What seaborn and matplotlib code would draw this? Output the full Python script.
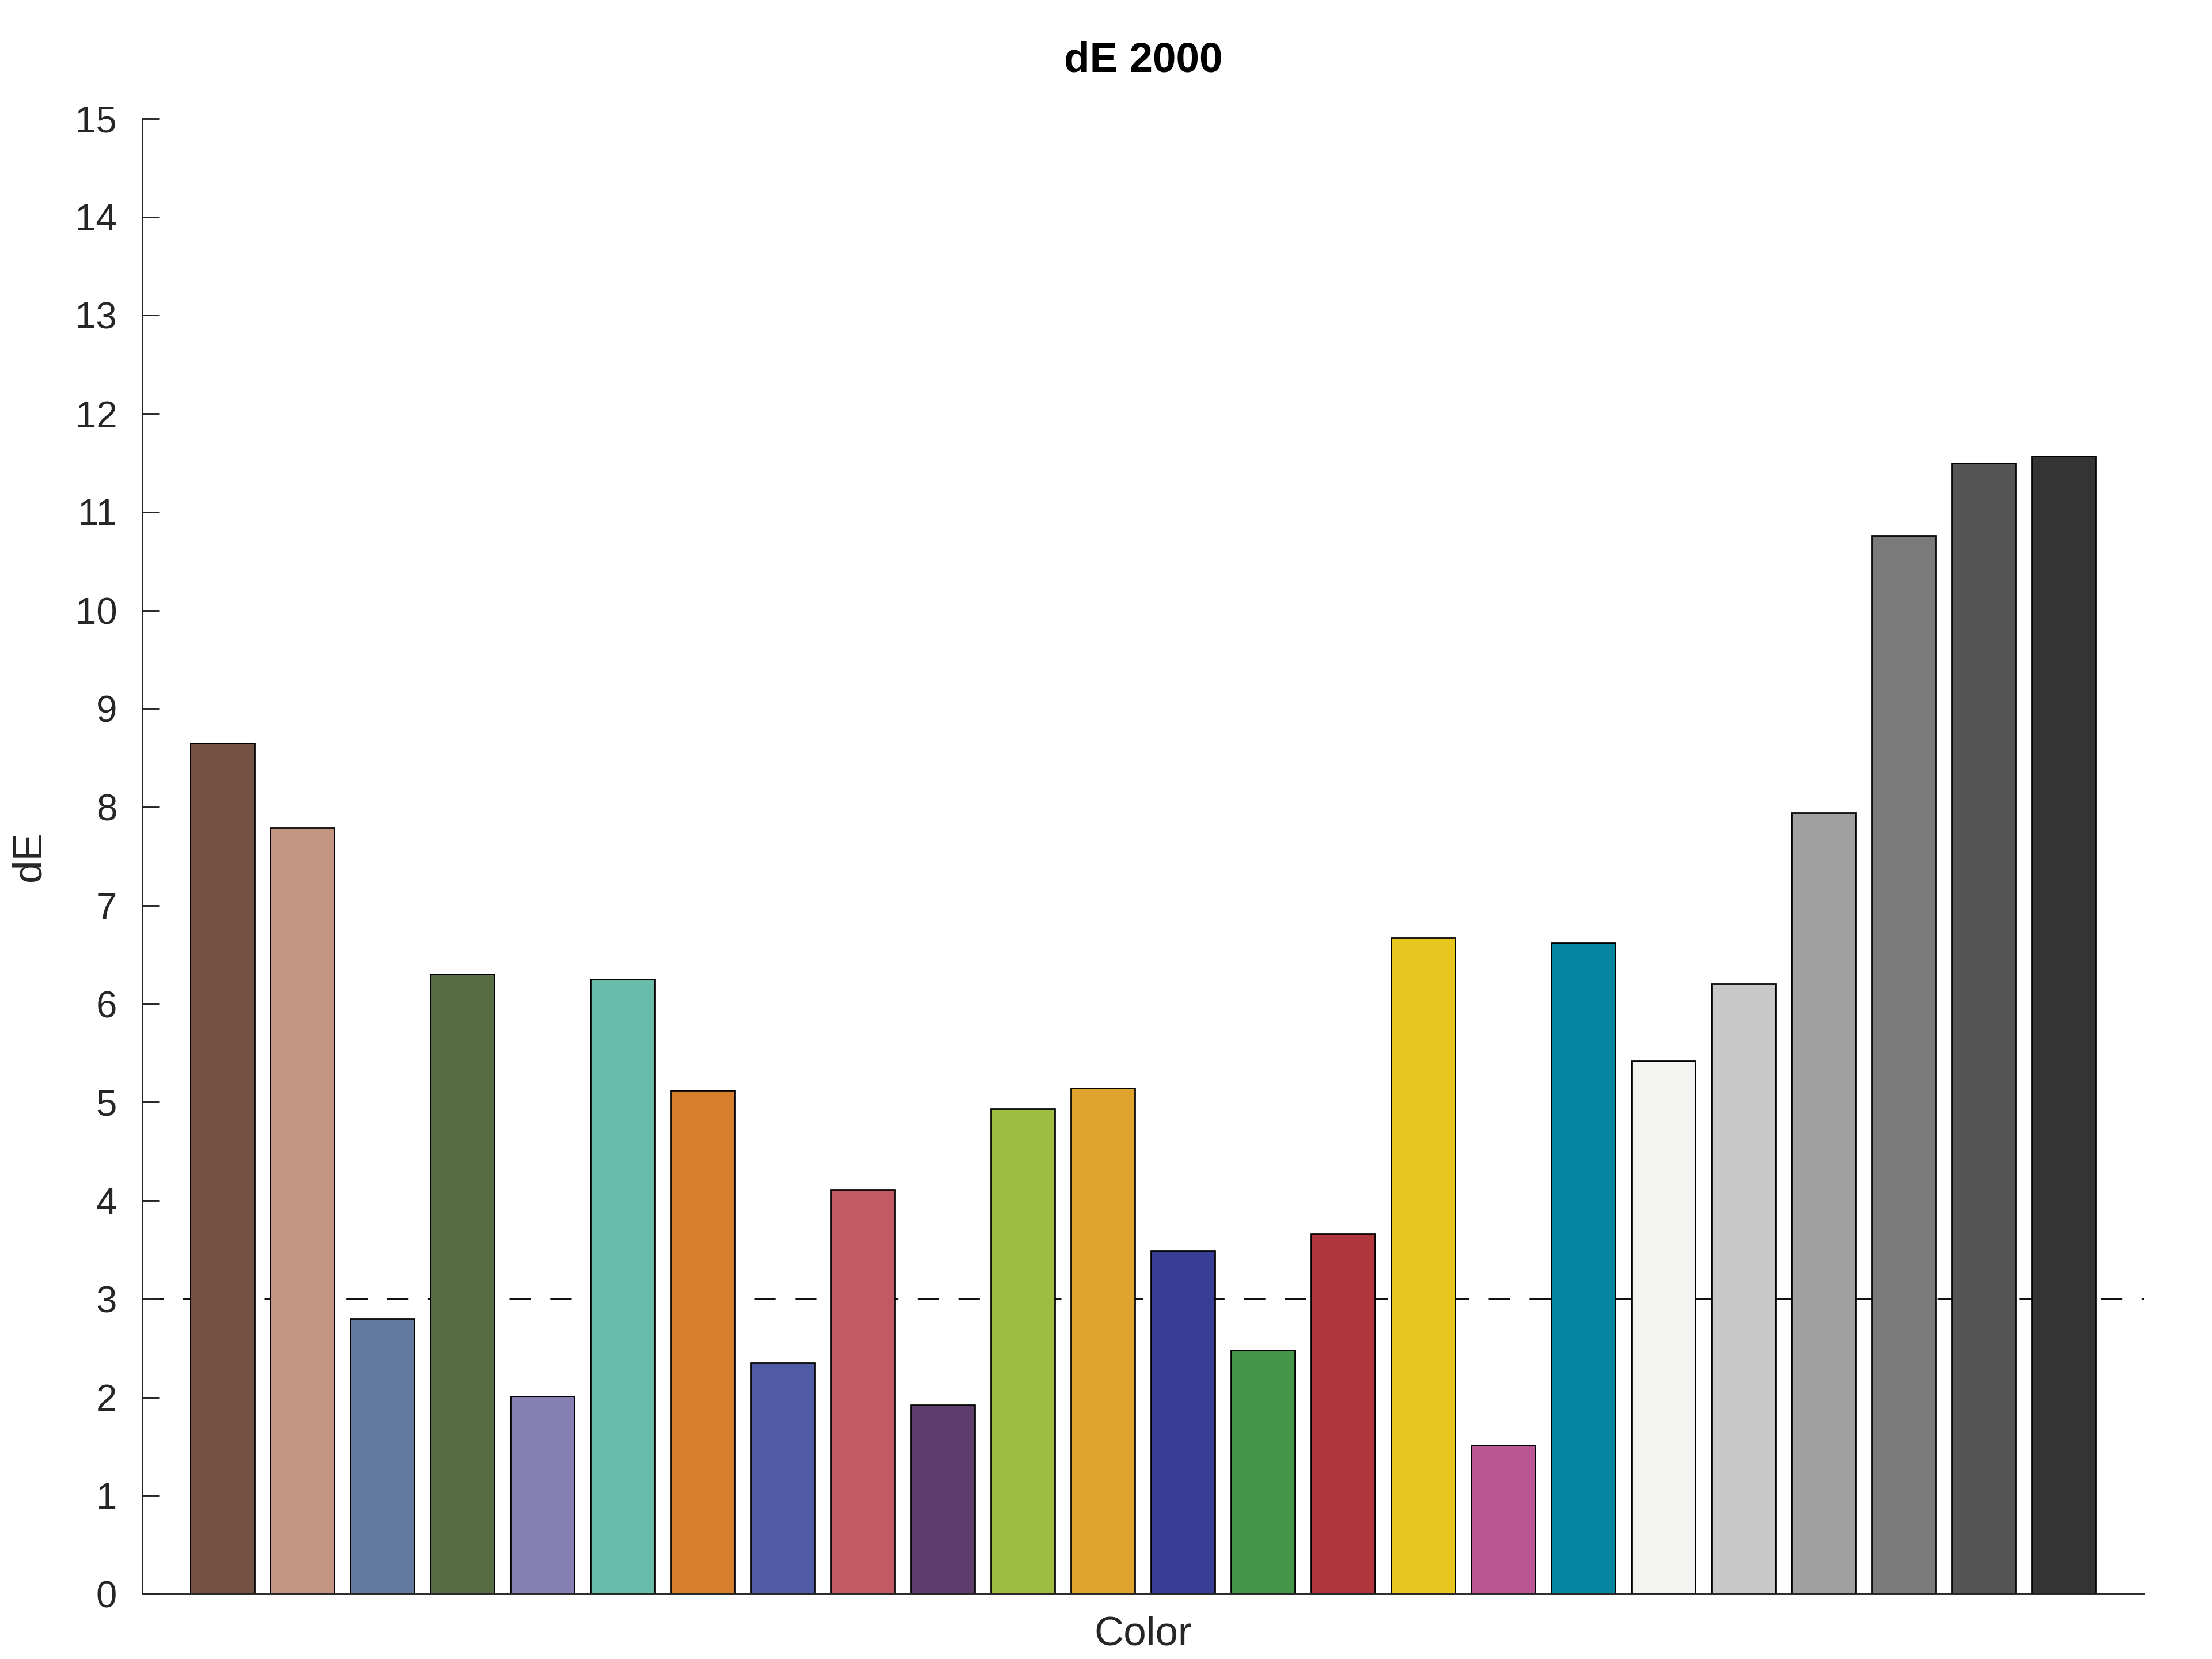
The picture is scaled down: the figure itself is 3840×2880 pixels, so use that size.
import matplotlib
matplotlib.use("Agg")
import matplotlib.pyplot as plt
import seaborn as sns
import pandas as pd

# ---- data ----
patches = ["dark skin", "light skin", "blue sky", "foliage", "blue flower", "bluish green",
           "orange", "purplish blue", "moderate red", "purple", "yellow green", "orange yellow",
           "blue", "green", "red", "yellow", "magenta", "cyan",
           "white", "neutral 8", "neutral 6.5", "neutral 5", "neutral 3.5", "black"]
de2000 = [8.65, 7.79, 2.80, 6.30, 2.01, 6.25,
          5.12, 2.35, 4.11, 1.92, 4.93, 5.14,
          3.49, 2.48, 3.66, 6.67, 1.51, 6.62,
          5.42, 6.20, 7.94, 10.76, 11.50, 11.57]
patch_colors = ["#735244", "#c29682", "#627a9d", "#576c43", "#8580b1", "#67bdaa",
                "#d67e2c", "#505ba6", "#c15a63", "#5e3c6c", "#9dbc40", "#e0a32e",
                "#383d96", "#469449", "#af363c", "#e7c71f", "#bb5695", "#0885a1",
                "#f3f3f2", "#c8c8c8", "#a0a0a0", "#7a7a7a", "#555555", "#343434"]
threshold = 3
y_ticks = list(range(0, 16))

df = pd.DataFrame({"Color": patches, "dE": de2000})

sns.set_theme(style="white")
plt.rcParams["font.family"] = ["Liberation Sans", "DejaVu Sans"]

fig = plt.figure(figsize=(12.8, 9.6), dpi=300)
ax = fig.add_axes([0.0643, 0.0392, 0.9049, 0.8893])

ax.axhline(threshold, color="#111111", lw=0.85, dashes=(10.5, 9.5), zorder=0.5)

sns.barplot(data=df, x="Color", y="dE", hue="Color", order=patches, hue_order=patches,
            palette=patch_colors, legend=False, width=0.8, saturation=1,
            edgecolor="black", linewidth=0.65, ax=ax, zorder=2)

ax.set_xlim(-1, len(patches))
ax.set_ylim(0, 15)
ax.set_yticks(y_ticks)
ax.set_xticks([])

for s in ["top", "right"]:
    ax.spines[s].set_visible(False)
for s in ["left", "bottom"]:
    ax.spines[s].set_color("#262626")
    ax.spines[s].set_linewidth(0.7)

ax.tick_params(axis="y", direction="in", length=7, width=0.7, color="#262626",
               labelsize=15.7, labelcolor="#262626", pad=10.5, left=True)

ax.set_xlabel("Color", fontsize=17, color="#262626", labelpad=9)
ax.set_ylabel("dE", fontsize=17, color="#262626", labelpad=11)
ax.set_title("dE 2000", fontsize=17.5, fontweight="bold", color="black", pad=19.5)

fig.savefig("out.png", dpi=300, facecolor="white")
